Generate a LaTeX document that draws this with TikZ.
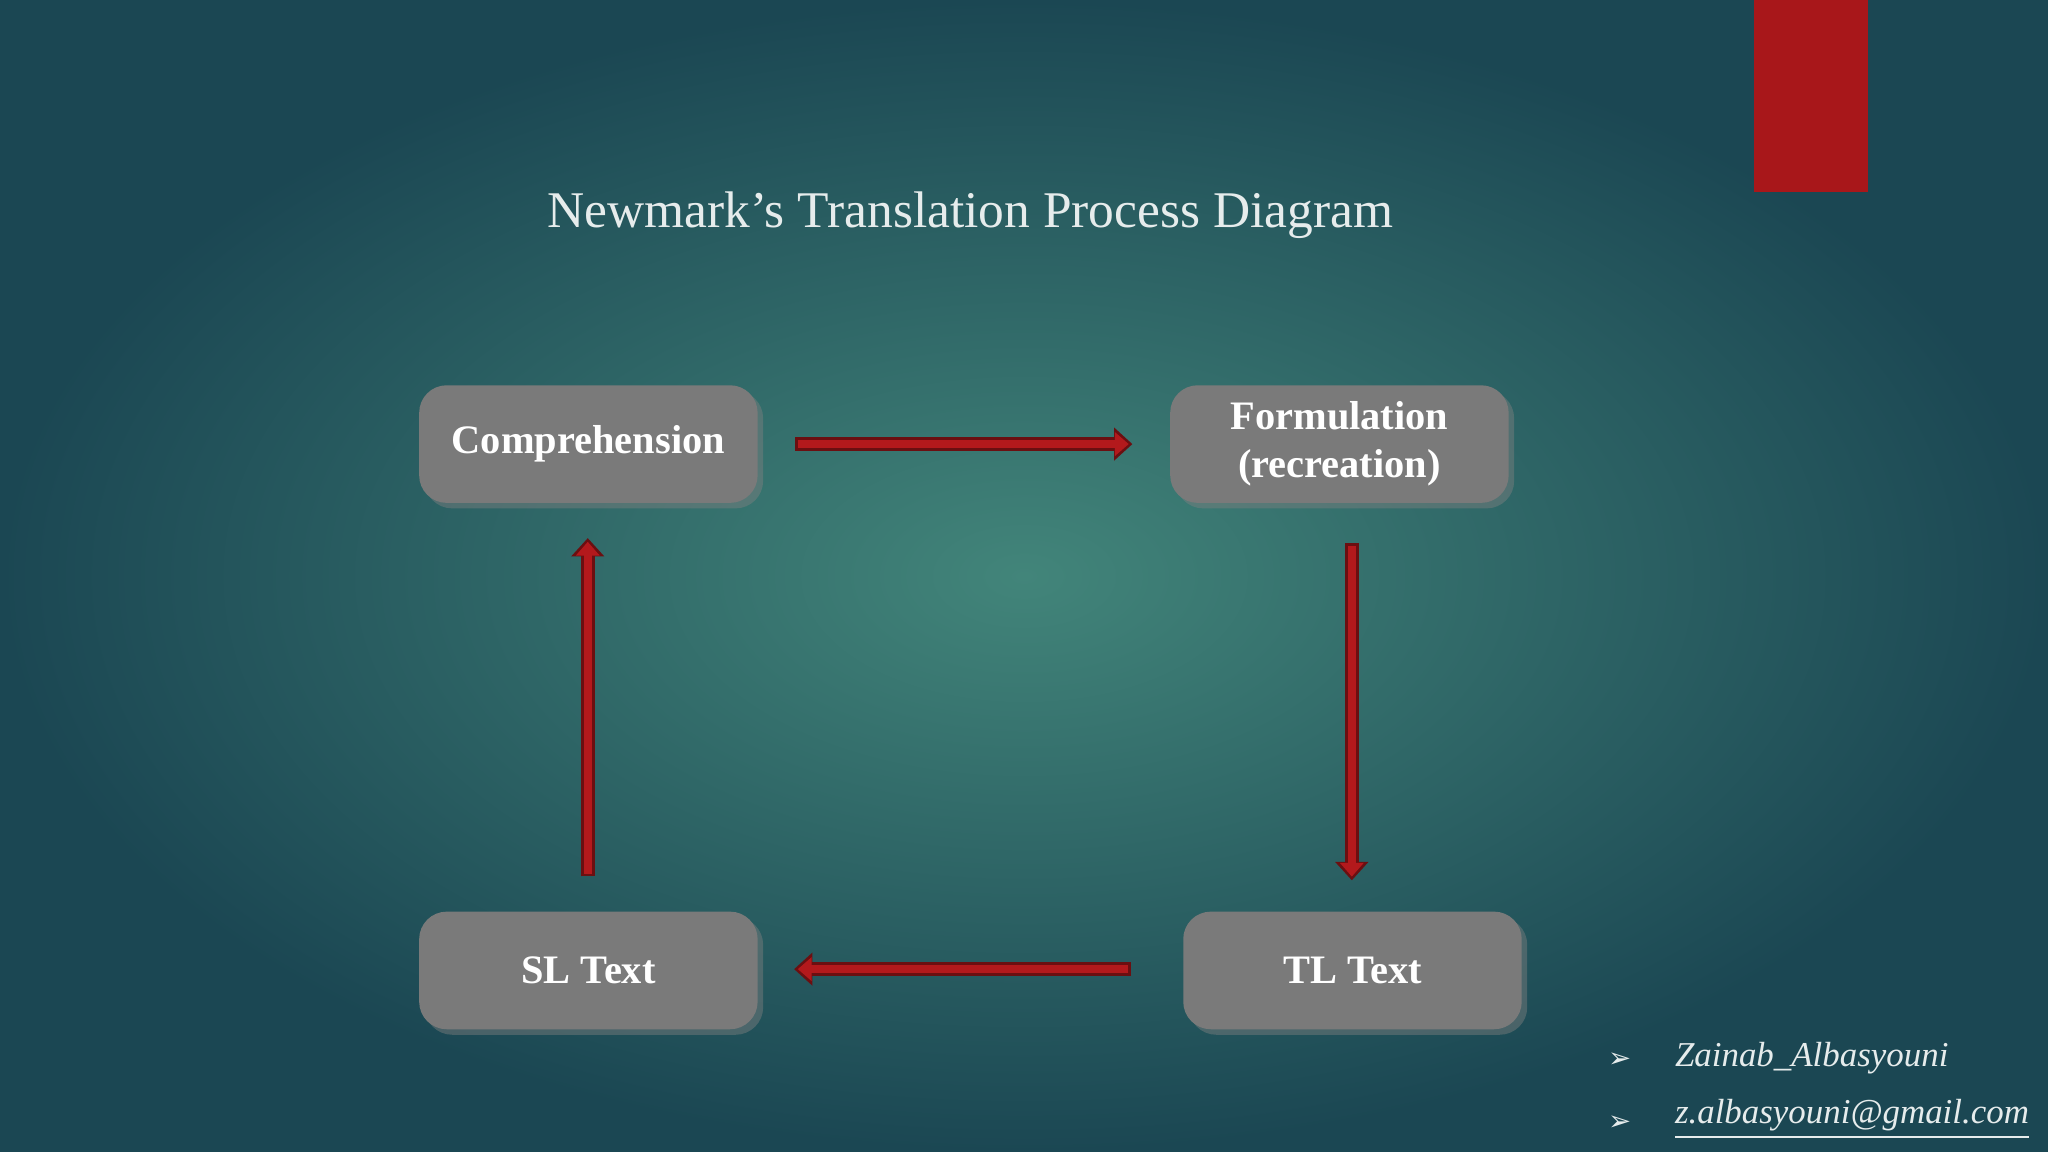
\documentclass[tikz,border=0pt]{standalone}
\usepackage{fontspec}
\setmainfont{Liberation Serif}
\newfontfamily\symf{DejaVu Sans}
\usetikzlibrary{shadows,arrows.meta}
\definecolor{bgin}{HTML}{42857A}
\definecolor{bgout}{HTML}{1B4753}
\definecolor{redbar}{HTML}{A8171A}
\definecolor{boxgray}{HTML}{7A7A7A}
\definecolor{arrred}{HTML}{B3191C}
\definecolor{foot}{HTML}{E6ECEC}
\begin{document}
\begin{tikzpicture}[x=0.01cm,y=-0.01cm,
  stepbox/.style={draw=none,fill=boxgray,rounded corners=6pt,minimum width=2.59cm,minimum height=0.9cm,
    text=white,font=\bfseries\fontsize{8.8}{10.5}\selectfont,align=center,
    drop shadow={shadow xshift=1.2pt,shadow yshift=-1.2pt,opacity=0.45}},
  flow/.style={draw=arrred!60!black,line width=3pt,-{Triangle[length=4pt,width=7pt]}},
  flowin/.style={draw=arrred,line width=1.8pt,-{Triangle[length=3pt,width=5pt]}}]
\useasboundingbox (0,0) rectangle (1568,882);
\shade[inner color=bgin,outer color=bgout] (0,0) rectangle (1568,882);
\fill[redbar] (1343,0) rectangle (1430,147);
\node[text=foot,font=\fontsize{11.2}{13}\selectfont] (title) at (743,165) {Newmark’s Translation Process Diagram};
\node[stepbox] (comp) at (450.5,340) {Comprehension};
\node[stepbox] (form) at (1025.5,340) {Formulation\\(recreation)};
\node[stepbox] (sl) at (450.5,743) {SL Text};
\node[stepbox] (tl) at (1035.5,743) {TL Text};
\coordinate (a1s) at (609,340); \coordinate (a1e) at (867,340);
\coordinate (a2s) at (1035,416); \coordinate (a2e) at (1035,674);
\coordinate (a3s) at (866,742); \coordinate (a3e) at (608,742);
\coordinate (a4s) at (450,671); \coordinate (a4e) at (450,412);
\foreach \s/\e in {a1s/a1e,a2s/a2e,a3s/a3e,a4s/a4e}{
  \draw[flow] (\s) -- (\e);
  \draw[flowin,shorten <=0.6pt,shorten >=0.8pt] (\s) -- (\e);
}
\node[text=foot,font=\symf\fontsize{6}{7}\selectfont] (b1) at (1240,812) {➢};
\node[text=foot,font=\symf\fontsize{6}{7}\selectfont] (b2) at (1240,860) {➢};
\node[text=foot,anchor=west,font=\itshape\fontsize{7.6}{9}\selectfont] (n1) at (1270,810) {Zainab\_Albasyouni};
\node[text=foot,anchor=west,font=\itshape\fontsize{7.6}{9}\selectfont] (n2) at (1270,857) {\underline{z.albasyouni@gmail.com}};
\end{tikzpicture}
\end{document}
